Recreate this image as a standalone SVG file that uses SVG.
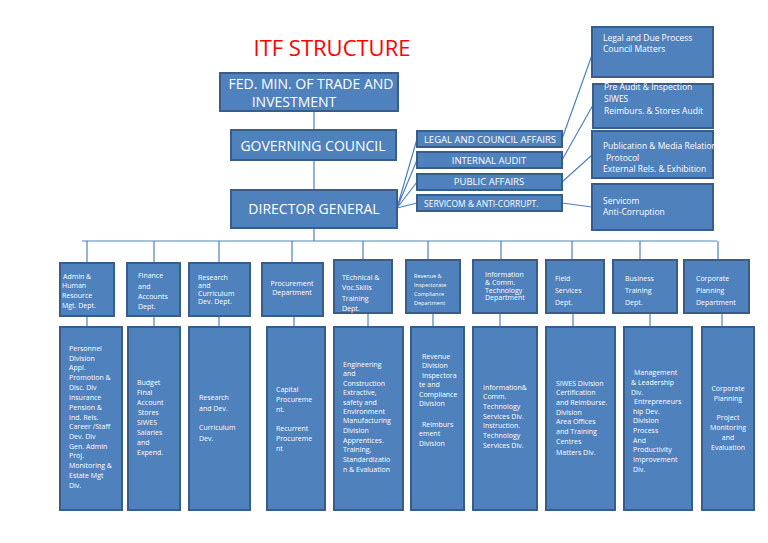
<svg xmlns="http://www.w3.org/2000/svg" width="768" height="543" viewBox="0 0 768 543">
<style>
.b{fill:#4f81bd;stroke:#385d8a;stroke-width:2}
.l{stroke:#4f81bd;stroke-width:1.2;fill:none}
text{font-family:"Open Sans","Liberation Sans",sans-serif;fill:#fff}
.s{font-size:7px}
.m{font-size:9.5px}
.L{font-size:14px}
</style>
<rect width="768" height="543" fill="#fff"/>
<text x="332" y="56" text-anchor="middle" style="font-size:22px;fill:#ff0000">ITF STRUCTURE</text>
<g id="connectors" class="l">
<path d="M314 111V130M314 160V190M314 228V241M82 241H717"/>
<path d="M397 208L417 139M397 208L417 160M397 208L417 182M397 208L417 203"/>
<path d="M562 139L592 55M562 160L593 105M562 182L592 155M562 203L592 207"/>
<path d="M87 241V263M154 241V263M219 241V263M292 241V263M363 241V260M428 241V260M501 241V260M572 241V260M640 241V260M718 241V260"/>
<path d="M87 316V327M154 316V327M219 316V327M294 316V327M368 313V327M433 313V327M500 313V327M573 313V327M650 313V327M722 313V327"/>
</g>
<g id="fed"><rect class="b" x="220" y="73" width="178" height="38"/><text class="L" x="311" y="89" text-anchor="middle">FED. MIN. OF TRADE AND</text><text class="L" x="294" y="107" text-anchor="middle">INVESTMENT</text></g>
<g id="gc"><rect class="b" x="231" y="130" width="165" height="30"/><text class="L" x="313" y="151" text-anchor="middle">GOVERNING COUNCIL</text></g>
<g id="dg"><rect class="b" x="231" y="190" width="166" height="38"/><text class="L" x="314" y="214" text-anchor="middle">DIRECTOR GENERAL</text></g>
<g id="legal"><rect class="b" x="417" y="131" width="145" height="16"/><text class="m" x="490" y="143" text-anchor="middle">LEGAL AND COUNCIL AFFAIRS</text></g>
<g id="audit"><rect class="b" x="417" y="152" width="145" height="16"/><text class="m" x="489" y="164" text-anchor="middle">INTERNAL AUDIT</text></g>
<g id="public"><rect class="b" x="417" y="174" width="145" height="16"/><text class="m" x="489" y="185" text-anchor="middle">PUBLIC AFFAIRS</text></g>
<g id="servicom"><rect class="b" x="417" y="195" width="145" height="16"/><text x="424" y="207" style="font-size:8.5px">SERVICOM &amp; ANTI-CORRUPT.</text></g>
<g id="r1"><rect class="b" x="592" y="27" width="121" height="50"/><text x="603" y="41" style="font-size:8.5px">Legal and Due Process</text><text x="603" y="52" style="font-size:8.5px">Council Matters</text></g>
<g id="r2"><rect class="b" x="593" y="84" width="120" height="44"/><text x="604" y="90" style="font-size:8.5px">Pre Audit &amp; Inspection</text><text x="604" y="102" style="font-size:8.5px">SIWES</text><text x="604" y="114" style="font-size:8.5px">Reimburs. &amp; Stores Audit</text></g>
<g id="r3"><rect class="b" x="592" y="131" width="121" height="47"/><text x="603" y="149" style="font-size:8.5px">Publication &amp; Media Relation</text><text x="606" y="161" style="font-size:8.5px">Protocol</text><text x="603" y="172" style="font-size:8.5px">External Rels. &amp; Exhibition</text></g>
<g id="r4"><rect class="b" x="592" y="184" width="121" height="46"/><text x="603" y="204" style="font-size:8.5px">Servicom</text><text x="603" y="215" style="font-size:8.5px">Anti-Corruption</text></g>

<g id="d1"><rect class="b" x="60" y="263" width="54" height="53"/><text class="s" x="63" y="279">Admin &amp;</text><text class="s" x="62" y="288">Human</text><text class="s" x="62" y="298">Resource</text><text class="s" x="62" y="308">Mgt. Dept.</text></g>
<g id="d2"><rect class="b" x="127" y="263" width="53" height="53"/><text class="s" x="138" y="278">Finance</text><text class="s" x="138" y="289">and</text><text class="s" x="138" y="299">Accounts</text><text class="s" x="138" y="309">Dept.</text></g>
<g id="d3"><rect class="b" x="189" y="263" width="61" height="53"/><text class="s" x="198" y="280">Research</text><text class="s" x="198" y="288">and</text><text class="s" x="198" y="296">Curriculum</text><text class="s" x="198" y="304">Dev. Dept.</text></g>
<g id="d4"><rect class="b" x="262" y="263" width="61" height="53"/><text class="s" x="292" y="286" text-anchor="middle">Procurement</text><text class="s" x="292" y="295" text-anchor="middle">Department</text></g>
<g id="d5"><rect class="b" x="334" y="260" width="58" height="53"/><text class="s" x="342" y="280">TEchnical &amp;</text><text class="s" x="342" y="290">Voc.Skills</text><text class="s" x="342" y="301">Training</text><text class="s" x="342" y="311">Dept.</text></g>
<g id="d6"><rect class="b" x="406" y="260" width="54" height="53"/><text x="414" y="278" style="font-size:5.5px">Revenue  &amp;</text><text x="414" y="287" style="font-size:5.5px">Inspectorate</text><text x="414" y="296" style="font-size:5.5px">Compliance</text><text x="414" y="305" style="font-size:5.5px">Department</text></g>
<g id="d7"><rect class="b" x="473" y="260" width="64" height="53"/><text class="s" x="485" y="277">Information</text><text class="s" x="485" y="285">&amp; Comm.</text><text class="s" x="485" y="293">Technology</text><text class="s" x="485" y="300">Department</text></g>
<g id="d8"><rect class="b" x="546" y="260" width="58" height="53"/><text class="s" x="555" y="281">Field</text><text class="s" x="555" y="293">Services</text><text class="s" x="555" y="305">Dept.</text></g>
<g id="d9"><rect class="b" x="613" y="260" width="64" height="53"/><text class="s" x="625" y="281">Business</text><text class="s" x="625" y="293">Training</text><text class="s" x="625" y="305">Dept.</text></g>
<g id="d10"><rect class="b" x="684" y="260" width="65" height="53"/><text class="s" x="696" y="281">Corporate</text><text class="s" x="696" y="293">Planning</text><text class="s" x="696" y="305">Department</text></g>

<g id="s1"><rect class="b" x="60" y="327" width="62" height="183"/><text class="s"><tspan x="69" y="351">Personnel</tspan><tspan x="69" y="361">Division</tspan><tspan x="69" y="370">Appl.</tspan><tspan x="69" y="380">Promotion &amp;</tspan><tspan x="69" y="390">Disc. Div</tspan><tspan x="69" y="400">Insurance</tspan><tspan x="69" y="410">Pension &amp;</tspan><tspan x="69" y="420">Ind. Rels.</tspan><tspan x="69" y="429">Career /Staff</tspan><tspan x="69" y="439">Dev. Div</tspan><tspan x="69" y="449">Gen. Admin</tspan><tspan x="69" y="458">Proj.</tspan><tspan x="69" y="468">Monitoring &amp;</tspan><tspan x="69" y="478">Estate Mgt</tspan><tspan x="69" y="488">Div.</tspan></text></g>
<g id="s2"><rect class="b" x="128" y="327" width="52" height="183"/><text class="s"><tspan x="137" y="385">Budget</tspan><tspan x="137" y="395">Final</tspan><tspan x="137" y="405">Account</tspan><tspan x="138" y="415">Stores</tspan><tspan x="137" y="425">SIWES</tspan><tspan x="137" y="435">Salaries</tspan><tspan x="137" y="445">and</tspan><tspan x="137" y="455">Expend.</tspan></text></g>
<g id="s3"><rect class="b" x="189" y="327" width="61" height="183"/><text class="s"><tspan x="199" y="400">Research</tspan><tspan x="199" y="411">and Dev.</tspan><tspan x="199" y="430">Curriculum</tspan><tspan x="199" y="441">Dev.</tspan></text></g>
<g id="s4"><rect class="b" x="267" y="327" width="58" height="183"/><text class="s"><tspan x="276" y="392">Capital</tspan><tspan x="276" y="402">Procureme</tspan><tspan x="276" y="412">nt.</tspan><tspan x="276" y="431">Recurrent</tspan><tspan x="276" y="441">Procureme</tspan><tspan x="276" y="451">nt</tspan></text></g>
<g id="s5"><rect class="b" x="334" y="327" width="69" height="183"/><text class="s"><tspan x="343" y="367">Engineering</tspan><tspan x="343" y="376">and</tspan><tspan x="343" y="386">Construction</tspan><tspan x="343" y="395">Extractive,</tspan><tspan x="343" y="405">safety and</tspan><tspan x="343" y="414">Environment</tspan><tspan x="343" y="423">Manufacturing</tspan><tspan x="343" y="433">Division</tspan><tspan x="343" y="443">Apprentices.</tspan><tspan x="343" y="452">Training,</tspan><tspan x="343" y="462">Standardizatio</tspan><tspan x="343" y="472">n &amp; Evaluation</tspan></text></g>
<g id="s6"><rect class="b" x="411" y="327" width="53" height="183"/><text class="s"><tspan x="422" y="359">Revenue</tspan><tspan x="422" y="368">Division</tspan><tspan x="422" y="378">Inspectora</tspan><tspan x="419" y="387">te and</tspan><tspan x="419" y="397">Compliance</tspan><tspan x="419" y="406">Division</tspan><tspan x="422" y="427">Reimburs</tspan><tspan x="419" y="436">ement</tspan><tspan x="419" y="446">Division</tspan></text></g>
<g id="s7"><rect class="b" x="473" y="327" width="64" height="183"/><text class="s"><tspan x="483" y="390">Information&amp;</tspan><tspan x="483" y="399">Comm.</tspan><tspan x="483" y="409">Technology</tspan><tspan x="483" y="419">Services Div.</tspan><tspan x="483" y="428">Instruction.</tspan><tspan x="483" y="438">Technology</tspan><tspan x="483" y="448">Services Div.</tspan></text></g>
<g id="s8"><rect class="b" x="546" y="327" width="69" height="183"/><text class="s"><tspan x="556" y="386">SIWES Division</tspan><tspan x="556" y="395">Certification</tspan><tspan x="556" y="405">and Reimburse.</tspan><tspan x="556" y="415">Division</tspan><tspan x="556" y="424">Area Offices</tspan><tspan x="556" y="434">and Training</tspan><tspan x="556" y="444">Centres</tspan><tspan x="556" y="455">Matters Div.</tspan></text></g>
<g id="s9"><rect class="b" x="624" y="327" width="68" height="183"/><text class="s"><tspan x="634" y="375">Management</tspan><tspan x="631" y="385">&amp; Leadership</tspan><tspan x="631" y="395">Div.</tspan><tspan x="634" y="404">Entrepreneurs</tspan><tspan x="633" y="414">hip Dev.</tspan><tspan x="633" y="423">Division</tspan><tspan x="633" y="433">Process</tspan><tspan x="633" y="443">And</tspan><tspan x="633" y="452">Productivity</tspan><tspan x="633" y="462">Improvement</tspan><tspan x="633" y="472">Div.</tspan></text></g>
<g id="s10"><rect class="b" x="702" y="327" width="52" height="183"/><text class="s" text-anchor="middle"><tspan x="728" y="391">Corporate</tspan><tspan x="728" y="401">Planning</tspan><tspan x="728" y="420">Project</tspan><tspan x="728" y="430">Monitoring</tspan><tspan x="728" y="440">and</tspan><tspan x="728" y="450">Evaluation</tspan></text></g>
</svg>
